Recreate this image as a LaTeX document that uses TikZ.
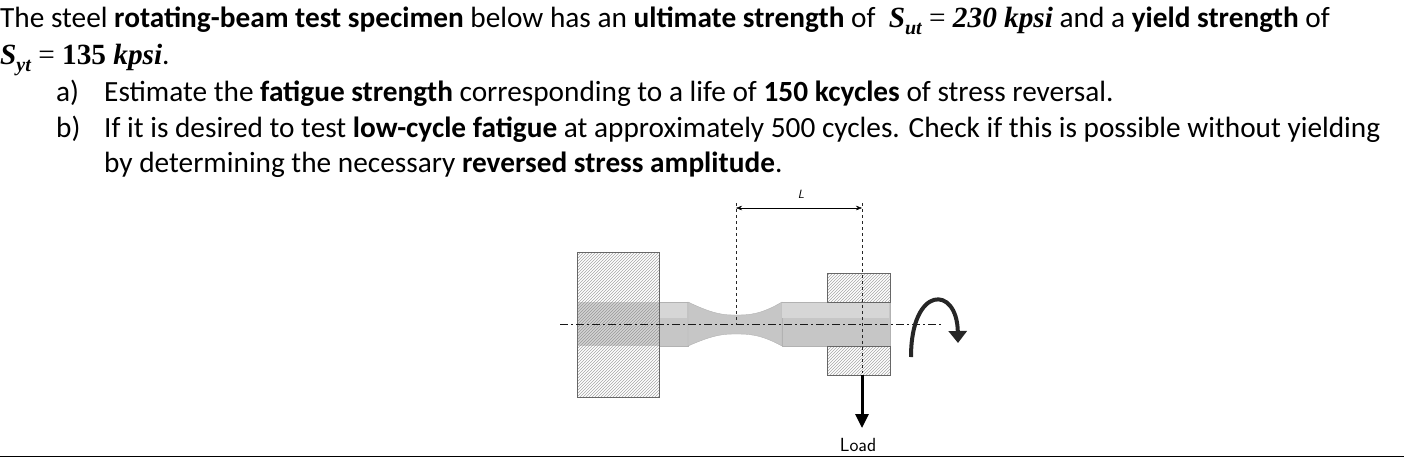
\documentclass[tikz,border=0pt]{standalone}
\usepackage{fontspec}
\setmainfont{Carlito}
\newfontfamily\mth{Liberation Serif}
\usetikzlibrary{patterns,arrows.meta}
\newcommand{\mb}[1]{{\mth\bfseries\itshape #1}}
\newcommand{\msub}[1]{\raisebox{-0.25em}{\fontsize{20}{22}\selectfont\mth\bfseries\itshape #1}}
\newcommand{\eqs}{{\mth\ = }}
\begin{document}
\begin{tikzpicture}[x=1pt,y=-1pt,
 txt/.style={anchor=base west,inner sep=0pt,font=\fontsize{29.3}{32}\selectfont},
 hatchbox/.style={draw=gray!80!black,pattern=north east lines,pattern color=gray!70},
 shaft/.style={fill=gray!45,draw=gray!60},
 dsh/.style={dashed,thin,gray!30!black}]
\useasboundingbox (0,0) rectangle (1404,458);
\node[txt] (l1) at (0,27) {The steel \textbf{rotating-beam test specimen} below has an \textbf{ultimate strength} of \ \mb{S}\msub{ut}\eqs\mb{230 kpsi} and a \textbf{yield strength} of};
\node[txt] (l2) at (0,64) {\mb{S}\msub{yt}\eqs{\mth\bfseries 135 \itshape kpsi}.};
\node[txt] (l3a) at (56,101) {a)};
\node[txt] (l3) at (104,101) {Estimate the \textbf{fatigue strength} corresponding to a life of \textbf{150 kcycles} of stress reversal.};
\node[txt] (l4a) at (56,137) {b)};
\node[txt] (l4) at (104,137) {If it is desired to test \textbf{low-cycle fatigue} at approximately 500 cycles. Check if this is possible without yielding};
\node[txt] (l5) at (104,172) {by determining the necessary \textbf{reversed stress amplitude}.};
% specimen
\draw[shaft] (659,302) rectangle (688,346);
\draw[shaft] (688,302) .. controls (715,315) and (725,315) .. (736,315) .. controls (748,315) and (760,315) .. (782,302) -- (782,346) .. controls (760,334) and (748,334) .. (736,334) .. controls (725,334) and (715,334) .. (688,346) -- cycle;
\draw[shaft] (782,302) rectangle (890,346);
\fill[gray!32] (782,303) rectangle (889,318);
\fill[gray!32] (659,303) rectangle (687,318);
\draw[hatchbox] (577,252) rectangle (659,397);
\fill[gray,opacity=0.35] (577,302) rectangle (659,346);
\draw[hatchbox] (827,273) rectangle (890,302);
\draw[hatchbox] (827,346) rectangle (890,375);
% center line
\coordinate (c0) at (560,324); \coordinate (c1) at (943,324);
\draw[thin,dash pattern=on 8pt off 3pt on 2pt off 3pt,gray!20!black] (c0) -- (c1);
% dimension
\coordinate (d1a) at (736,203); \coordinate (d1b) at (736,324);
\coordinate (d2a) at (862,203); \coordinate (d2b) at (862,373);
\draw[dsh] (d1a) -- (d1b);
\draw[dsh] (d2a) -- (d2b);
\coordinate (e1) at (736,208); \coordinate (e2) at (862,208);
\draw[{Stealth[length=6pt]}-{Stealth[length=6pt]},thin] (e1) -- (e2);
\node[font=\sffamily\itshape\large] (L) at (801,194) {L};
% load
\coordinate (ld0) at (862,375); \coordinate (ld1) at (862,428);
\draw[line width=3pt,-{Triangle[length=14pt,width=13pt]}] (ld0) -- (ld1);
\node[font=\fontsize{19}{22}\selectfont\sffamily] (load) at (858,445) {Load};
% rotation
\draw[line width=4pt,gray!30!black,-{Triangle[length=12pt,width=18pt]}] (911,357) .. controls (911,285) and (957,285) .. (958,343);
% bottom rule
\coordinate (b0) at (0,456); \coordinate (b1) at (1404,456);
\draw[thin] (b0) -- (b1);
\end{tikzpicture}
\end{document}
